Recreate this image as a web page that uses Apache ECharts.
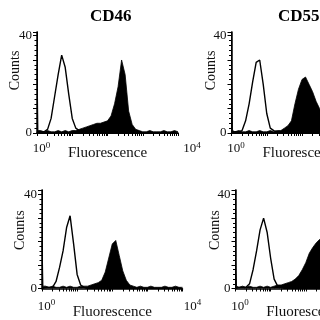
<!DOCTYPE html>
<html>
<head>
<meta charset="utf-8">
<script src="https://cdn.jsdelivr.net/npm/echarts@6/dist/echarts.min.js"></script>
<style>
  html, body { margin: 0; padding: 0; background: #fff; }
  #main { width: 320px; height: 320px; }
</style>
</head>
<body>
<div id="main"></div>
<script>
var chart = echarts.init(document.getElementById('main'));

// fluorescence channel, in decades (10^0 .. 10^4)
var channels = [0, 0.03, 0.1, 0.2, 0.3, 0.4, 0.5, 0.6, 0.7, 0.8, 0.9,
    1.0, 1.1, 1.2, 1.3, 1.4, 1.5, 1.6, 1.7, 1.8, 1.9,
    2.0, 2.1, 2.2, 2.3, 2.4, 2.5, 2.6, 2.7, 2.8, 2.9,
    3.0, 3.1, 3.2, 3.3, 3.4, 3.5, 3.6, 3.7, 3.8, 3.9, 4.0];

// counts, open histogram (control) and filled histogram (stained)
var cd46Control = [0, 0.5, 0.5, 0.5, 1.5, 6, 15, 24, 32, 27, 16, 6, 2, 1, 0.5, 0.5, 0,
    0, 0, 0, 0, 0, 0, 0, 0, 0, 0, 0, 0, 0, 0, 0, 0, 0, 0, 0, 0, 0, 0, 0, 0, 0];
var cd46Stained = [27, 1, 1, 0.5, 1, 0.5, 0.5, 1, 0.5, 1, 0.5, 1, 1, 1.5, 2, 2.5, 3, 3.5, 4, 4, 4.5,
    5, 7, 12, 19, 30, 24, 9, 3.5, 1.5, 1, 0.5, 0.5, 1, 0.5, 0.5, 0.5, 1, 0.5, 0.5, 1, 0.5];
var cd55Control = [0, 0.5, 0.5, 0.5, 1, 5, 12, 21, 29, 30, 20, 8, 2, 1, 0.5, 0,
    0, 0, 0, 0, 0, 0, 0, 0, 0, 0, 0, 0, 0, 0, 0, 0, 0, 0, 0, 0, 0, 0, 0, 0, 0, 0];
var cd55Stained = [26, 1, 0.5, 1, 0.5, 0.5, 1, 0.5, 0.5, 1, 0.5, 0.5, 1, 0.5, 1, 1, 2, 3, 5, 12, 18,
    22, 23, 20, 17, 13, 10, 7, 4, 2, 1, 0.5, 1, 0.5, 0.5, 1, 0.5, 0.5, 0.5, 1, 0.5, 0.5];
var lowerLeftControl = [0, 0.5, 0.5, 0.5, 0.5, 3, 9, 16, 26, 31, 19, 6, 1.5, 0.5, 0,
    0, 0, 0, 0, 0, 0, 0, 0, 0, 0, 0, 0, 0, 0, 0, 0, 0, 0, 0, 0, 0, 0, 0, 0, 0, 0, 0];
var lowerLeftStained = [20, 1, 1, 0.5, 1, 0.5, 0.5, 1, 0.5, 1, 0.5, 0.5, 1, 1, 1, 1.5, 2, 2.5, 3.5, 7, 13,
    19, 20.5, 14, 7.5, 3.5, 1.5, 1, 0.5, 1, 0.5, 0.5, 1, 0.5, 0.5, 0.5, 1, 0.5, 0.5, 1, 0.5, 0.5];
var lowerRightControl = [0, 0.5, 0.5, 0.5, 0.5, 2, 8, 16, 25, 30, 24, 13, 4, 1, 0.5, 0,
    0, 0, 0, 0, 0, 0, 0, 0, 0, 0, 0, 0, 0, 0, 0, 0, 0, 0, 0, 0, 0, 0, 0, 0, 0, 0];
var lowerRightStained = [12, 1, 0.5, 1, 0.5, 1, 0.5, 0.5, 1, 0.5, 1, 0.5, 1, 1.5, 1.5, 2, 2.5, 3, 4, 5.5, 8,
    11, 15, 17.5, 19.5, 21, 22, 20, 15, 9, 4, 2, 1, 0.5, 1, 0.5, 0.5, 1, 0.5, 0.5, 0.5, 0.5];

var titles = ['CD46', 'CD55', '', ''];
var yLabels = [0, 40];

var serif = "'Liberation Serif', 'Times New Roman', serif";

var panels = [
    { left: 37, top: 32, width: 141, height: 101, ymax: 41.5, dashed: false, labelMargin: 8,
      fluoGap: 13, countsGap: 15, control: cd46Control, stained: cd46Stained, labelPad: [9, 28], countsPad: 24 },
    { left: 231.5, top: 32, width: 141, height: 101, ymax: 41.5, dashed: false, labelMargin: 8,
      fluoGap: 13, countsGap: 13, control: cd55Control, stained: cd55Stained, labelPad: [9, 28], countsPad: 24 },
    { left: 42, top: 190, width: 140.5, height: 98.5, ymax: 42, dashed: true, labelMargin: 10,
      fluoGap: 16, countsGap: 15, control: lowerLeftControl, stained: lowerLeftStained, labelPad: [9, 20], countsPad: 18 },
    { left: 235.5, top: 190, width: 140.5, height: 98.5, ymax: 42, dashed: true, labelMargin: 10,
      fluoGap: 16, countsGap: 13, control: lowerRightControl, stained: lowerRightStained, labelPad: [9, 20], countsPad: 18 }
];

// log-scale tick marks (1..9 x 10^n)
var logTicks = [];
for (var d = 0; d < 4; d++) {
    for (var k = 1; k < 10; k++) {
        logTicks.push(+(d + Math.log10(k)).toFixed(3));
    }
}
logTicks.push(4);

var pairs = function(arr) {
    return channels.map(function(x, i) { return [x, arr[i]]; });
};

var grids = [], xAxes = [], yAxes = [], series = [], titleList = [];

panels.forEach(function(p, i) {
    grids.push({ left: p.left, top: p.top, width: p.width, height: p.height, outerBoundsMode: 'none' });

    xAxes.push({
        gridIndex: i, type: 'value', min: 0, max: 4, interval: 1, position: 'bottom',
        axisLine: { lineStyle: { color: '#000', width: 1.5 } },
        axisTick: { length: 3, customValues: logTicks, lineStyle: { color: '#000', width: 1 } },
        splitLine: { show: false },
        axisLabel: {
            margin: p.labelMargin,
            formatter: function(v) {
                if (v === 0) return '{a|10}{s|0}';
                if (v === 4) return '{b|10}{s|4}';
                return '';
            },
            rich: {
                a: { fontFamily: serif, fontSize: 13, color: '#111', padding: [0, 0, 0, p.labelPad[0]] },
                b: { fontFamily: serif, fontSize: 13, color: '#111', padding: [0, 0, 0, p.labelPad[1]] },
                s: { fontFamily: serif, fontSize: 9, color: '#111', padding: [0, 0, 7, 0] }
            }
        },
        name: 'Fluorescence', nameLocation: 'middle', nameGap: p.fluoGap, nameMoveOverlap: false,
        nameTextStyle: { fontFamily: serif, fontSize: 15, color: '#111' }
    });
    xAxes.push({
        gridIndex: i, type: 'value', min: 0, max: 4, position: 'top',
        axisLine: { lineStyle: { color: p.dashed ? '#555' : '#000', width: 1, type: p.dashed ? [3, 2] : 'solid' } },
        axisTick: { show: false }, axisLabel: { show: false }, splitLine: { show: false }
    });

    yAxes.push({
        gridIndex: i, type: 'value', min: 0, max: p.ymax, interval: 10, position: 'left',
        axisLine: { lineStyle: { color: '#000', width: 1.5 } },
        axisTick: { length: 4, lineStyle: { color: '#000' } },
        minorTick: { show: true, splitNumber: 5, length: 2.5, lineStyle: { color: '#000' } },
        splitLine: { show: false },
        axisLabel: {
            margin: 5, fontFamily: serif, fontSize: 13, color: '#111',
            formatter: function(v) { return yLabels.indexOf(v) >= 0 ? String(v) : ''; }
        },
        name: 'Counts', nameLocation: 'middle', nameGap: p.countsGap, nameMoveOverlap: false,
        nameTextStyle: { fontFamily: serif, fontSize: 14, color: '#111', padding: [0, 0, 0, p.countsPad] }
    });
    yAxes.push({
        gridIndex: i, type: 'value', min: 0, max: p.ymax, position: 'right',
        axisLine: { lineStyle: { color: '#000', width: 1 } },
        axisTick: { show: false }, axisLabel: { show: false }, splitLine: { show: false }
    });

    series.push({
        type: 'line', xAxisIndex: 2 * i, yAxisIndex: 2 * i, data: pairs(p.stained),
        showSymbol: false, silent: true,
        lineStyle: { color: '#000', width: 0.8 },
        areaStyle: { color: '#000', opacity: 1 }
    });
    series.push({
        type: 'line', xAxisIndex: 2 * i, yAxisIndex: 2 * i, data: pairs(p.control),
        showSymbol: false, silent: true,
        lineStyle: { color: '#000', width: 1.4 }
    });

    if (titles[i]) {
        titleList.push({
            text: titles[i], top: 3,
            left: i === 0 ? 85 : 273,
            textStyle: { fontFamily: serif, fontSize: 17, fontWeight: 'bold', color: '#000' }
        });
    }
});

option = {
    backgroundColor: '#fff',
    animation: false,
    title: titleList,
    grid: grids,
    xAxis: xAxes,
    yAxis: yAxes,
    series: series
};

chart.setOption(option);
</script>
</body>
</html>
